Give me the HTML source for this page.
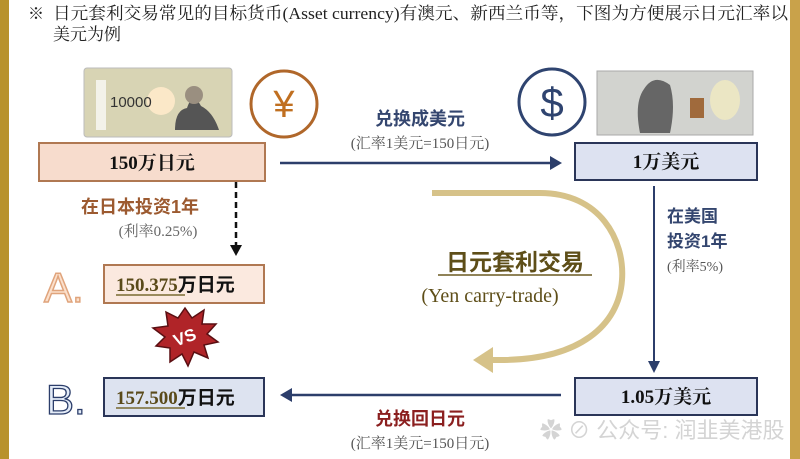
<!DOCTYPE html>
<html><head><meta charset="utf-8"><style>
html,body{margin:0;padding:0;width:800px;height:459px;overflow:hidden;background:#fff}
svg{display:block}
text{font-family:"Liberation Serif","Noto Serif CJK SC",serif}
.s{font-family:"Liberation Sans","Noto Sans CJK SC",sans-serif}
</style></head><body>
<svg width="800" height="459" viewBox="0 0 800 459" xmlns="http://www.w3.org/2000/svg">
<rect x="0" y="0" width="9" height="459" fill="#b8922c"/>
<rect x="790" y="0" width="10" height="459" fill="#c9a24a"/>
<text x="28" y="19" font-size="16" class="s" fill="#222">※</text>
<text x="53" y="19" font-size="17" fill="#222" textLength="735" lengthAdjust="spacingAndGlyphs">日元套利交易常见的目标货币(Asset currency)有澳元、新西兰币等，下图为方便展示日元汇率以</text>
<text x="53" y="40" font-size="17" fill="#222">美元为例</text>
<!-- yen bill -->
<rect x="84" y="68" width="148" height="69" rx="3" fill="#d8d4b4" stroke="#bbb"/>
<rect x="96" y="80" width="10" height="50" fill="#fff" opacity=".7"/>
<circle cx="161" cy="101" r="14" fill="#fbe8c8"/>
<text x="110" y="107" font-size="15" class="s" fill="#333">10000</text>
<path d="M175 130 q0-20 12-22 q6-18 14-2 q12 6 18 24z" fill="#555"/>
<circle cx="194" cy="95" r="9" fill="#9a8f80"/>
<!-- yen circle -->
<circle cx="284" cy="104" r="33" fill="#fff" stroke="#b0672a" stroke-width="3"/>
<text x="284" y="117" text-anchor="middle" font-size="38" class="s" fill="#c06f20">¥</text>
<!-- dollar circle -->
<circle cx="552" cy="102" r="33" fill="#fff" stroke="#2f4470" stroke-width="3"/>
<text x="552" y="117" text-anchor="middle" font-size="42" class="s" fill="#2f4470">$</text>
<!-- dollar bill -->
<rect x="597" y="71" width="156" height="64" fill="#d2d3cf" stroke="#aaa"/>
<path d="M640 133 q-6-30 4-44 q10-16 26-4 q6 20 0 48z" fill="#666"/>
<rect x="690" y="98" width="14" height="20" fill="#a06a3c"/>
<ellipse cx="725" cy="100" rx="15" ry="20" fill="#ebe6c4"/>
<!-- box 150万 -->
<rect x="39" y="143" width="226" height="38" fill="#f7dccd" stroke="#b07852" stroke-width="2"/>
<text x="152" y="169" text-anchor="middle" font-size="19" font-weight="bold" fill="#111">150万日元</text>
<!-- box 1万美元 -->
<rect x="575" y="143" width="182" height="37" fill="#dde2f1" stroke="#2a3558" stroke-width="2"/>
<text x="666" y="168" text-anchor="middle" font-size="19" font-weight="bold" fill="#111">1万美元</text>
<!-- top arrow -->
<line x1="280" y1="163" x2="552" y2="163" stroke="#2c3e6b" stroke-width="2.5"/>
<path d="M562 163 l-12 -7 v14z" fill="#2c3e6b"/>
<text x="420" y="125" text-anchor="middle" font-size="18" font-weight="bold" class="s" fill="#34466f">兑换成美元</text>
<text x="420" y="148" text-anchor="middle" font-size="15" fill="#555">(汇率1美元=150日元)</text>
<!-- dashed down -->
<line x1="236" y1="182" x2="236" y2="245" stroke="#111" stroke-width="2.5" stroke-dasharray="6 4"/>
<path d="M236 256 l-6 -11 h12z" fill="#111"/>
<text x="140" y="213" text-anchor="middle" font-size="18" font-weight="bold" class="s" fill="#9c5a30">在日本投资1年</text>
<text x="158" y="236" text-anchor="middle" font-size="15" fill="#666">(利率0.25%)</text>
<!-- right down -->
<line x1="654" y1="186" x2="654" y2="362" stroke="#2c3e6b" stroke-width="2"/>
<path d="M654 373 l-6 -12 h12z" fill="#2c3e6b"/>
<text x="667" y="222" font-size="17" font-weight="bold" class="s" fill="#34466f">在美国</text>
<text x="667" y="247" font-size="17" font-weight="bold" class="s" fill="#34466f">投资1年</text>
<text x="667" y="271" font-size="14" fill="#555">(利率5%)</text>
<!-- A -->
<text x="44" y="302" font-size="42" class="s" fill="#fbe0cc" stroke="#e0a47c" stroke-width="1.5">A.</text>
<rect x="104" y="265" width="160" height="38" fill="#fbe9df" stroke="#b07852" stroke-width="2"/>
<text x="116" y="291" font-size="19" font-weight="bold"><tspan fill="#5a4a1a">150.375</tspan><tspan fill="#111" class="s">万日元</tspan></text>
<line x1="116" y1="295" x2="185" y2="295" stroke="#7a6a30" stroke-width="1.5"/>
<!-- VS -->
<polygon points="185,308 192,318 204,310 202,324 216,324 207,334 218,342 204,345 208,358 194,352 188,366 182,354 170,362 170,348 156,346 165,337 153,328 168,326 166,312 178,318" fill="#b02428" stroke="#5a0f12" stroke-width="1.5"/>
<text x="185" y="343" text-anchor="middle" font-size="17" font-weight="bold" class="s" fill="#fff" transform="rotate(-20 185 338)">VS</text>
<!-- B -->
<text x="46" y="414" font-size="42" class="s" fill="#e4ecf8" stroke="#2c3e6b" stroke-width="1.3">B.</text>
<rect x="104" y="378" width="160" height="38" fill="#dde3f0" stroke="#2a3558" stroke-width="2"/>
<text x="116" y="404" font-size="19" font-weight="bold"><tspan fill="#5a4a1a">157.500</tspan><tspan fill="#111" class="s">万日元</tspan></text>
<line x1="116" y1="408" x2="185" y2="408" stroke="#7a6a30" stroke-width="1.5"/>
<!-- 1.05 box -->
<rect x="575" y="378" width="182" height="37" fill="#dde2f1" stroke="#2a3558" stroke-width="2"/>
<text x="666" y="403" text-anchor="middle" font-size="19" font-weight="bold" fill="#111">1.05万美元</text>
<!-- bottom arrow -->
<line x1="292" y1="395" x2="561" y2="395" stroke="#2c3e6b" stroke-width="2.5"/>
<path d="M280 395 l12 -7 v14z" fill="#2c3e6b"/>
<text x="420" y="425" text-anchor="middle" font-size="18" font-weight="bold" class="s" fill="#8b1f1f">兑换回日元</text>
<text x="420" y="448" text-anchor="middle" font-size="15" fill="#555">(汇率1美元=150日元)</text>
<!-- gold arc -->
<path d="M432 193 H540 C600 193 625 240 622 280 C619 325 580 360 500 360 H488" fill="none" stroke="#d6c289" stroke-width="6"/>
<path d="M473 360 l20 -13 v26z" fill="#d6c289"/>
<text x="515" y="270" text-anchor="middle" font-size="23" font-weight="bold" class="s" fill="#5e4e18">日元套利交易</text>
<line x1="438" y1="275" x2="592" y2="275" stroke="#6b5a20" stroke-width="1.5"/>
<text x="490" y="302" text-anchor="middle" font-size="20" fill="#5e4e18">(Yen carry-trade)</text>
<!-- watermark -->
<text x="540" y="438" font-size="22" class="s" fill="#d4d4d4">✿ ⊘ 公众号: 润韭美港股</text>
</svg>
</body></html>
